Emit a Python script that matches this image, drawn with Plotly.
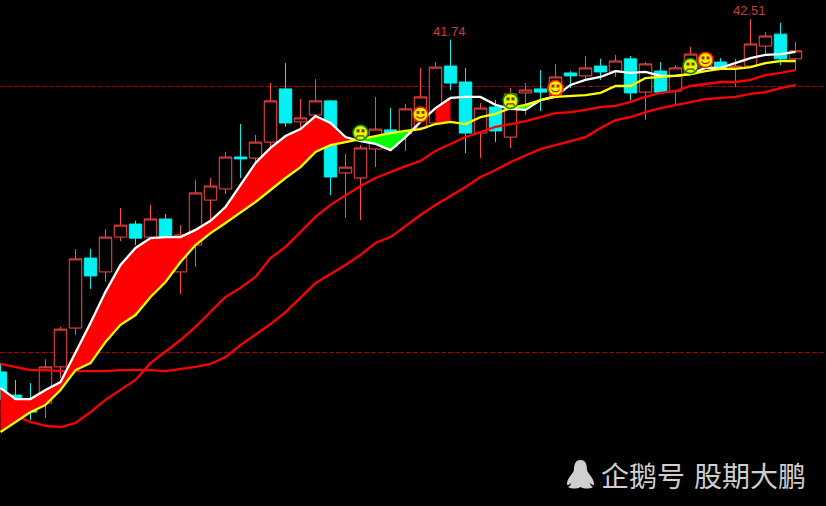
import plotly.graph_objects as go

# Daily prices, one entry per bar
opens = [29.25,28.38,28.23,28.08,29.44,30.90,33.53,33.01,34.32,34.81,34.32,35.00,33.01,34.02,35.71,36.13,37.33,37.29,37.89,39.89,38.65,38.91,39.44,36.73,36.54,37.63,38.35,38.20,38.42,38.61,40.75,40.15,38.23,39.21,38.08,39.74,39.89,39.66,40.49,40.38,40.75,40.56,41.02,39.77,40.56,39.81,40.45,40.68,40.90,40.68,40.75,41.50,41.95,41.02]
highs = [29.58,28.95,28.83,29.73,30.94,33.87,33.87,34.62,35.41,34.93,35.53,35.19,34.77,36.47,36.54,37.52,38.57,38.16,40.11,40.86,39.51,40.26,39.47,37.44,37.78,39.59,39.17,39.32,40.68,40.90,41.74,40.68,39.36,39.47,39.92,40.11,40.60,40.83,40.56,41.13,41.02,41.17,41.13,40.90,40.90,40.79,41.47,41.28,41.05,41.02,42.51,42.03,42.37,41.65]
lows = [28.20,28.01,27.44,27.52,29.02,30.64,32.37,32.63,34.17,34.02,34.21,34.21,32.18,33.20,34.96,35.94,36.54,37.11,37.67,38.46,38.35,38.80,35.90,35.04,34.96,36.95,37.59,37.56,38.42,38.61,39.85,37.48,37.29,37.89,37.67,38.91,39.06,39.66,39.92,40.23,40.23,40.34,39.47,38.72,39.74,39.29,40.41,40.68,40.64,39.96,40.71,41.17,40.79,40.60]
closes = [28.46,28.20,27.74,29.44,30.86,33.50,32.86,34.32,34.77,34.28,35.00,34.32,34.40,35.98,36.24,37.33,37.26,37.89,39.44,38.61,38.80,39.44,36.58,36.95,37.67,38.38,37.71,39.14,39.59,40.71,40.11,38.23,39.17,38.31,39.70,39.85,39.77,40.34,40.38,40.68,40.53,40.94,39.74,40.83,39.77,40.68,41.20,41.17,40.68,40.75,41.58,41.88,41.02,41.32]

ma_fast = [28.65,28.23,28.23,28.57,28.87,29.96,31.09,32.26,33.27,33.91,34.28,34.32,34.32,34.59,34.93,35.45,36.28,37.11,37.67,38.12,38.38,38.87,38.61,38.08,37.93,37.82,37.59,38.08,38.65,39.17,39.55,39.59,39.59,39.29,39.14,39.10,39.47,39.62,40.04,40.23,40.34,40.56,40.49,40.53,40.38,40.38,40.45,40.68,40.68,40.86,41.05,41.17,41.20,41.28]
ma_signal = [26.99,27.37,27.74,28.01,28.57,29.32,29.58,30.38,31.02,31.39,32.07,32.63,33.38,34.02,34.47,34.85,35.26,35.64,36.09,36.54,36.95,37.52,37.78,37.89,38.01,38.12,38.23,38.31,38.38,38.57,38.65,38.57,38.83,38.95,39.17,39.29,39.47,39.59,39.62,39.66,39.74,40.00,40.00,40.30,40.34,40.38,40.45,40.56,40.64,40.64,40.71,40.86,40.94,40.94]
ma_mid = [27.82,27.59,27.37,27.22,27.18,27.33,27.74,28.20,28.57,28.95,29.58,30.00,30.45,30.94,31.50,32.07,32.41,32.82,33.53,33.95,34.51,35.08,35.53,35.90,36.24,36.54,36.77,36.99,37.18,37.56,37.82,38.08,38.27,38.46,38.57,38.68,38.83,38.98,39.02,39.10,39.21,39.25,39.40,39.59,39.74,39.81,40.00,40.08,40.15,40.15,40.23,40.41,40.49,40.60]
ma_slow = [29.55,29.44,29.32,29.32,29.28,29.28,29.28,29.28,29.32,29.32,29.32,29.28,29.36,29.44,29.55,29.81,30.26,30.64,31.05,31.50,32.03,32.59,32.93,33.27,33.65,34.10,34.32,34.74,35.15,35.53,35.86,36.20,36.58,36.84,37.14,37.40,37.63,37.78,37.93,38.08,38.42,38.72,38.83,39.02,39.17,39.29,39.40,39.51,39.55,39.59,39.70,39.77,39.92,40.04]

happy_bars = [28, 37, 47]
happy_prices = [38.93, 39.92, 40.98]
sad_bars = [24, 34, 46]
sad_prices = [38.24, 39.44, 40.75]
label_bars = [30, 50]
level_prices = [29.98, 40]

RED = "#ff4848"
CYAN = "#00f2f2"
WIDTH, HEIGHT = 826, 506
Y_RANGE = [24.21, 43.233]
X_RANGE = [-0.5 / 15, (WIDTH - 0.5) / 15]
BAR_PER_PX = (X_RANGE[1] - X_RANGE[0]) / WIDTH
PRICE_PER_PX = (Y_RANGE[1] - Y_RANGE[0]) / HEIGHT
bars = list(range(len(closes)))


def crossing(i):
    """Where the fast and signal averages meet between bars i and i+1."""
    d0 = ma_fast[i] - ma_signal[i]
    d1 = ma_fast[i + 1] - ma_signal[i + 1]
    t = d0 / (d0 - d1)
    return i + t, ma_fast[i] + t * (ma_fast[i + 1] - ma_fast[i])


def band(first, last, color, cross_left=False, cross_right=False):
    xs = list(bars[first:last + 1])
    top = ma_fast[first:last + 1]
    bottom = ma_signal[first:last + 1]
    if cross_left:
        cx, cy = crossing(first - 1)
        xs, top, bottom = [cx] + xs, [cy] + top, [cy] + bottom
    if cross_right:
        cx, cy = crossing(last)
        xs, top, bottom = xs + [cx], top + [cy], bottom + [cy]
    return go.Scatter(x=xs + xs[::-1], y=top + bottom[::-1], fill="toself",
                      fillcolor=color, mode="lines", line=dict(width=0),
                      hoverinfo="skip", showlegend=False)


def add_faces(fig, xs, ys, fill, edge, ink, mouth):
    """A round badge with two eyes and a mouth, drawn on each signal point."""
    fig.add_trace(go.Scatter(x=xs, y=ys, mode="markers",
                             marker=dict(size=15, color=fill, line=dict(color=edge, width=1.5)),
                             hoverinfo="skip", showlegend=False))
    ex, ey, mx, my = [], [], [], []
    for x, y in zip(xs, ys):
        for dx in (-2.5, 2.5):
            ex.append(x + dx * BAR_PER_PX)
            ey.append(y + 2 * PRICE_PER_PX)
        for dx, dy in mouth:
            mx.append(x + dx * BAR_PER_PX)
            my.append(y - dy * PRICE_PER_PX)
        mx.append(None)
        my.append(None)
    fig.add_trace(go.Scatter(x=ex, y=ey, mode="markers",
                             marker=dict(size=3, symbol="square", color=ink),
                             hoverinfo="skip", showlegend=False))
    fig.add_trace(go.Scatter(x=mx, y=my, mode="lines", line=dict(color=ink, width=1.2),
                             hoverinfo="skip", showlegend=False))


fig = go.Figure()
fig.add_trace(go.Candlestick(
    x=bars, open=opens, high=highs, low=lows, close=closes,
    increasing=dict(line=dict(color=RED, width=1), fillcolor="#000000"),
    decreasing=dict(line=dict(color=CYAN, width=1), fillcolor=CYAN),
    showlegend=False, hoverinfo="skip"))

fig.add_trace(band(0, 23, "#ff0000", cross_right=True))
fig.add_trace(band(24, 27, "#00ff00", cross_left=True, cross_right=True))
fig.add_trace(band(29, 30, "#ff0000"))
fig.add_trace(band(35, 35, "#00ff00", cross_left=True, cross_right=True))

for series, color in ((ma_slow, "#ff0000"), (ma_mid, "#ff0000"),
                      (ma_fast, "#ffffff"), (ma_signal, "#ffff00")):
    fig.add_trace(go.Scatter(x=bars, y=series, mode="lines",
                             line=dict(color=color, width=2.3),
                             hoverinfo="skip", showlegend=False))

add_faces(fig, sad_bars, sad_prices, "#f0f000", "#009000", "#4a5000",
          [(-4, 5), (-3, 3), (3, 3), (4, 5)])
add_faces(fig, happy_bars, happy_prices, "#ffee00", "#ff2000", "#a03000",
          [(-4, 1.5), (-2, 3.5), (2, 3.5), (4, 1.5)])


def logo(points):
    out = []
    for cmd, coords in points:
        text = " ".join(f"{x / WIDTH:.5f} {1 - y / HEIGHT:.5f}" for x, y in coords)
        out.append(f"{cmd} {text}")
    return " ".join(out) + " Z"


penguin = logo([
    ("M", [(580.5, 460)]),
    ("C", [(575, 460), (574, 465), (574, 470)]),
    ("C", [(573, 474), (567, 478), (567, 484)]),
    ("C", [(567, 486), (569, 485), (571, 483)]),
    ("C", [(571, 485), (570, 486), (568, 487)]),
    ("C", [(572, 489), (577, 489), (580.5, 487)]),
    ("C", [(584, 489), (590, 489), (593, 487)]),
    ("C", [(591, 486), (590, 485), (590, 483)]),
    ("C", [(592, 485), (594, 486), (594, 484)]),
    ("C", [(594, 478), (588, 474), (587, 470)]),
    ("C", [(587, 465), (586, 460), (580.5, 460)]),
])

annotations = [
    dict(xref="paper", yref="paper", x=599 / WIDTH, y=1 - 475 / HEIGHT,
         xanchor="left", yanchor="middle", showarrow=False, text="企鹅号",
         font=dict(family="Noto Sans CJK SC", size=28, color="#cfcfcf")),
    dict(xref="paper", yref="paper", x=808 / WIDTH, y=1 - 475 / HEIGHT,
         xanchor="right", yanchor="middle", showarrow=False, text="股期大鹏",
         font=dict(family="Noto Sans CJK SC", size=28, color="#cfcfcf")),
]
for i in label_bars:
    annotations.append(dict(x=i, y=highs[i], xanchor="center", yanchor="bottom",
                            yshift=-1, xshift=-1, showarrow=False, text=f"{highs[i]:.2f}",
                            font=dict(family="Liberation Sans", size=13, color="#c83c3c")))

fig.update_layout(
    width=WIDTH, height=HEIGHT, margin=dict(l=0, r=0, t=0, b=0),
    paper_bgcolor="#000000", plot_bgcolor="#000000", showlegend=False,
    boxgap=0.17, boxgroupgap=0,
    xaxis=dict(range=X_RANGE, visible=False, rangeslider=dict(visible=False)),
    yaxis=dict(range=Y_RANGE, tickmode="array", tickvals=level_prices,
               showticklabels=False, ticks="", showline=False, zeroline=False,
               showgrid=True, gridcolor="#a80000", gridwidth=1, griddash="5px,2px"),
    shapes=[dict(type="path", xref="paper", yref="paper", path=penguin,
                 fillcolor="#cfcfcf", line=dict(width=0))],
    annotations=annotations,
)

fig.write_html("out.html", post_script="document.body.style.margin='0';document.body.style.background='#000';",
               config=dict(displayModeBar=False))
